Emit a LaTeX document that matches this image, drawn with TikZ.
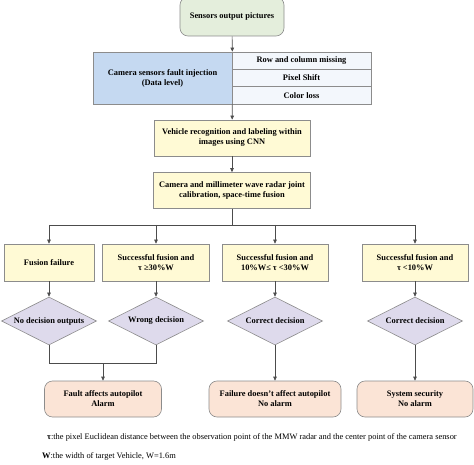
\documentclass[tikz,border=0pt]{standalone}
\usepackage{fontspec}
\setmainfont{Liberation Serif}
\usetikzlibrary{arrows.meta,shapes.geometric}
\definecolor{srcgreen}{RGB}{228,238,220}
\definecolor{injblue}{RGB}{197,217,241}
\definecolor{cellblue}{RGB}{243,247,252}
\definecolor{stepyellow}{RGB}{255,250,213}
\definecolor{decpurple}{RGB}{222,218,236}
\definecolor{endpeach}{RGB}{251,228,214}
\definecolor{boxgray}{RGB}{140,140,140}

\begin{document}
\begin{tikzpicture}[x=1pt, y=-1pt,
  txt/.style={font=\fontsize{8.4}{10}\selectfont\bfseries, align=center, inner sep=1pt},
  startbox/.style={txt, draw=boxgray, line width=0.6pt, fill=srcgreen, rounded corners=8pt, minimum width=104pt, minimum height=39pt},
  injbox/.style={txt, draw=boxgray, line width=0.6pt, fill=injblue, minimum width=139pt, minimum height=52pt},
  cellbox/.style={txt, draw=boxgray, line width=0.6pt, fill=cellblue, minimum width=139pt, minimum height=17.33pt},
  stepbox/.style={txt, draw=boxgray, line width=0.6pt, fill=stepyellow, minimum height=36pt},
  decbox/.style={txt, diamond, aspect=2, inner sep=0pt, draw=boxgray, line width=0.6pt, fill=decpurple, minimum width=95pt, minimum height=48pt},
  endbox/.style={txt, draw=boxgray, line width=0.6pt, fill=endpeach, rounded corners=8pt, minimum height=36pt},
  note/.style={font=\fontsize{8.4}{10}\selectfont, anchor=west, inner sep=0pt},
  link/.style={draw=black!70, line width=0.6pt},
  arr/.style={link, -{Triangle[length=4pt, width=3.5pt]}}
]
\useasboundingbox (0,0) rectangle (474,465);

% pipeline
\node[startbox] (src) at (232,16.5) {Sensors output pictures};
\node[injbox] (inj) at (162.5,78) {Camera sensors fault injection\\(Data level)};
\node[cellbox] (row) at (301.5,60.67) {Row and column missing};
\node[cellbox] (shift) at (301.5,78) {Pixel Shift};
\node[cellbox] (color) at (301.5,95.33) {Color loss};
\node[stepbox, minimum width=156pt] (cnn) at (232,138) {Vehicle recognition and labeling within\\images using CNN};
\node[stepbox, minimum width=157pt] (cal) at (232,190.5) {Camera and millimeter wave radar joint\\calibration, space-time fusion};
\coordinate (bus) at (232,225);

% fusion cases
\node[stepbox, minimum width=90pt, minimum height=37pt] (f1) at (49,262.5) {Fusion failure};
\node[stepbox, minimum width=107pt, minimum height=37pt] (f2) at (156,262.5) {Successful fusion and\\τ ≥30\%W};
\node[stepbox, minimum width=106pt, minimum height=37pt] (f3) at (275,262.5) {Successful fusion and\\10\%W≤ τ <30\%W};
\node[stepbox, minimum width=106pt, minimum height=37pt] (f4) at (415,262.5) {Successful fusion and\\τ <10\%W};

% decisions
\node[decbox] (d1) at (49,321) {No decision outputs};
\node[decbox] (d2) at (156,321) {Wrong decision};
\node[decbox] (d3) at (275,321) {Correct decision};
\node[decbox] (d4) at (415,321) {Correct decision};

% outcomes
\coordinate (mrg) at (103,363);
\node[endbox, minimum width=117pt] (e1) at (103,399) {Fault affects autopilot\\Alarm};
\node[endbox, minimum width=132pt] (e2) at (275,399) {Failure doesn't affect autopilot\\No alarm};
\node[endbox, minimum width=116pt] (e3) at (415,399) {System security\\No alarm};

% connectors
\draw[arr] (src) -- (inj.north east);
\draw[arr] (inj.south east) -- (cnn);
\draw[arr] (cnn) -- (cal);
\draw[link] (cal) -- (bus);
\draw[link] (f1 |- bus) -- (f4 |- bus);
\foreach \f in {f1,f2,f3,f4} {
  \draw[arr] (\f |- bus) -- (\f);
}
\foreach \f/\d in {f1/d1,f2/d2,f3/d3,f4/d4} {
  \draw[arr] (\f) -- (\d);
}
\draw[link] (d1.south) -- (d1.south |- mrg) -- (d2.south |- mrg) -- (d2.south);
\draw[arr] (mrg) -- (e1);
\draw[arr] (d3) -- (e2);
\draw[arr] (d4) -- (e3);

% notes
\node[note] (n1) at (47,437) {\textbf{τ}:the pixel Euclidean distance between the observation point of the MMW radar and the center point of the camera sensor};
\node[note] (n2) at (42,456) {\textbf{W}:the width of target Vehicle, W=1.6m};

\end{tikzpicture}
\end{document}
